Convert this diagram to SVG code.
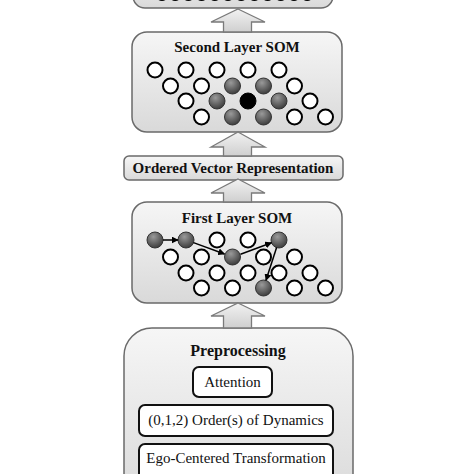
<svg xmlns="http://www.w3.org/2000/svg" width="474" height="474" viewBox="0 0 474 474">
<defs>
<linearGradient id="boxg" x1="0" y1="0" x2="0" y2="1">
<stop offset="0" stop-color="#f6f6f6"/>
<stop offset="1" stop-color="#d9d9d9"/>
</linearGradient>
<linearGradient id="arrg" x1="0" y1="0" x2="0" y2="1">
<stop offset="0" stop-color="#f2f2f2"/>
<stop offset="1" stop-color="#cfcfcf"/>
</linearGradient>
<radialGradient id="greyg" cx="0.4" cy="0.3" r="0.7">
<stop offset="0" stop-color="#9a9a9a"/>
<stop offset="1" stop-color="#3e3e3e"/>
</radialGradient>
<marker id="ah" viewBox="0 0 10 10" refX="9" refY="5" markerWidth="7" markerHeight="7" markerUnits="userSpaceOnUse" orient="auto">
<path d="M0,0 L10,5 L0,10 z" fill="#000"/>
</marker>
</defs>
<style>
.box{fill:url(#boxg);stroke:#6a6a6a;stroke-width:1.5}
.inner{fill:#fff;stroke:#111;stroke-width:2}
.bigarr{fill:url(#arrg);stroke:#7a7a7a;stroke-width:1.3}
.w{fill:#fff;stroke:#000;stroke-width:2}
.g{fill:url(#greyg);stroke:#333;stroke-width:1}
.k{fill:#000;stroke:#000;stroke-width:1}
.title{font-family:"Liberation Serif","DejaVu Serif",serif;font-weight:bold;font-size:15px;fill:#111;text-anchor:middle}
.lbl{font-family:"Liberation Serif","DejaVu Serif",serif;font-size:15px;fill:#111;text-anchor:middle}
.link{stroke:#000;stroke-width:1.5;fill:none;marker-end:url(#ah)}
</style>
<rect width="474" height="474" fill="#fff"/>

<g id="top-layer">
<rect class="box" x="133" y="-30" width="200" height="38" rx="12"/>
<g class="w">
<circle cx="162" cy="-5.5" r="5.5"/><circle cx="175.2" cy="-5.5" r="5.5"/><circle cx="188.4" cy="-5.5" r="5.5"/><circle cx="201.6" cy="-5.5" r="5.5"/><circle cx="214.8" cy="-5.5" r="5.5"/><circle cx="228" cy="-5.5" r="5.5"/><circle cx="241.2" cy="-5.5" r="5.5"/><circle cx="254.4" cy="-5.5" r="5.5"/><circle cx="267.6" cy="-5.5" r="5.5"/><circle cx="280.8" cy="-5.5" r="5.5"/><circle cx="294" cy="-5.5" r="5.5"/><circle cx="307.2" cy="-5.5" r="5.5"/>
</g>
</g>

<g id="second-layer-som">
<rect class="box" x="132" y="32" width="210" height="100" rx="15"/>
<text class="title" x="237" y="52">Second Layer SOM</text>
<circle class="w" cx="155" cy="70" r="7.5"/><circle class="w" cx="186" cy="70" r="7.5"/><circle class="w" cx="217" cy="70" r="7.5"/><circle class="w" cx="248" cy="70" r="7.5"/><circle class="w" cx="279" cy="70" r="7.5"/>
<circle class="w" cx="170.5" cy="86" r="7.5"/><circle class="w" cx="201.5" cy="86" r="7.5"/><circle class="g" cx="232.5" cy="86" r="8"/><circle class="g" cx="263.5" cy="86" r="8"/><circle class="w" cx="294.5" cy="86" r="7.5"/>
<circle class="w" cx="186" cy="101" r="7.5"/><circle class="g" cx="217" cy="101" r="8"/><circle class="k" cx="248" cy="101" r="8"/><circle class="g" cx="279" cy="101" r="8"/><circle class="w" cx="310" cy="101" r="7.5"/>
<circle class="w" cx="201.5" cy="117" r="7.5"/><circle class="g" cx="232.5" cy="117" r="8"/><circle class="g" cx="263.5" cy="117" r="8"/><circle class="w" cx="294.5" cy="117" r="7.5"/><circle class="w" cx="325.5" cy="117" r="7.5"/>
</g>

<g id="ordered-vector-representation">
<rect class="box" x="124" y="156" width="219" height="24" rx="5"/>
<text class="title" x="233" y="173">Ordered Vector Representation</text>
</g>

<g id="first-layer-som">
<rect class="box" x="132" y="202" width="210" height="101" rx="15"/>
<text class="title" x="237" y="223">First Layer SOM</text>
<circle class="g" cx="155" cy="240" r="8"/><circle class="g" cx="186" cy="240" r="8"/><circle class="w" cx="217" cy="240" r="7.5"/><circle class="w" cx="248" cy="240" r="7.5"/><circle class="g" cx="279" cy="240" r="8"/>
<circle class="w" cx="170.5" cy="257" r="7.5"/><circle class="w" cx="201.5" cy="257" r="7.5"/><circle class="g" cx="232.5" cy="257" r="8"/><circle class="w" cx="263.5" cy="257" r="7.5"/><circle class="w" cx="294.5" cy="257" r="7.5"/>
<circle class="w" cx="186" cy="273" r="7.5"/><circle class="w" cx="217" cy="273" r="7.5"/><circle class="w" cx="248" cy="273" r="7.5"/><circle class="w" cx="279" cy="273" r="7.5"/><circle class="w" cx="310" cy="273" r="7.5"/>
<circle class="w" cx="201.5" cy="288" r="7.5"/><circle class="w" cx="232.5" cy="288" r="7.5"/><circle class="g" cx="263.5" cy="288" r="8"/><circle class="w" cx="294.5" cy="288" r="7.5"/><circle class="w" cx="325.5" cy="288" r="7.5"/>
</g>

<g id="preprocessing">
<rect class="box" x="124" y="328" width="229" height="180" rx="28"/>
<text class="title" x="238" y="356" style="font-size:16px">Preprocessing</text>
<g id="attention">
<rect class="inner" x="193" y="367" width="79" height="30" rx="6"/>
<text class="lbl" x="232.5" y="387">Attention</text>
</g>
<g id="orders-of-dynamics">
<rect class="inner" x="139" y="405" width="194" height="31" rx="6"/>
<text class="lbl" x="236" y="425">(0,1,2) Order(s) of Dynamics</text>
</g>
<g id="ego-centered-transformation">
<rect class="inner" x="139" y="444" width="194" height="40" rx="6"/>
<text class="lbl" x="236" y="463">Ego-Centered Transformation</text>
</g>
</g>

<g id="connectors">
<path class="bigarr" d="M238,9 L265,22 L251.5,22 L251.5,32 L223.5,32 L223.5,22 L211,22 Z"/>
<path class="bigarr" d="M238,132 L265,147 L251.5,147 L251.5,156 L223.5,156 L223.5,147 L211,147 Z"/>
<path class="bigarr" d="M238,179 L265,193 L251.5,193 L251.5,202 L223.5,202 L223.5,193 L211,193 Z"/>
<path class="bigarr" d="M238,303 L265,316 L251.5,316 L251.5,328 L223.5,328 L223.5,316 L211,316 Z"/>
<line class="link" x1="163" y1="240" x2="178" y2="240"/>
<line class="link" x1="193.5" y1="242.6" x2="224.5" y2="254"/>
<line class="link" x1="240.5" y1="254.2" x2="271.5" y2="242.8"/>
<line class="link" x1="276.6" y1="247.6" x2="266" y2="280.3"/>
</g>
</svg>
